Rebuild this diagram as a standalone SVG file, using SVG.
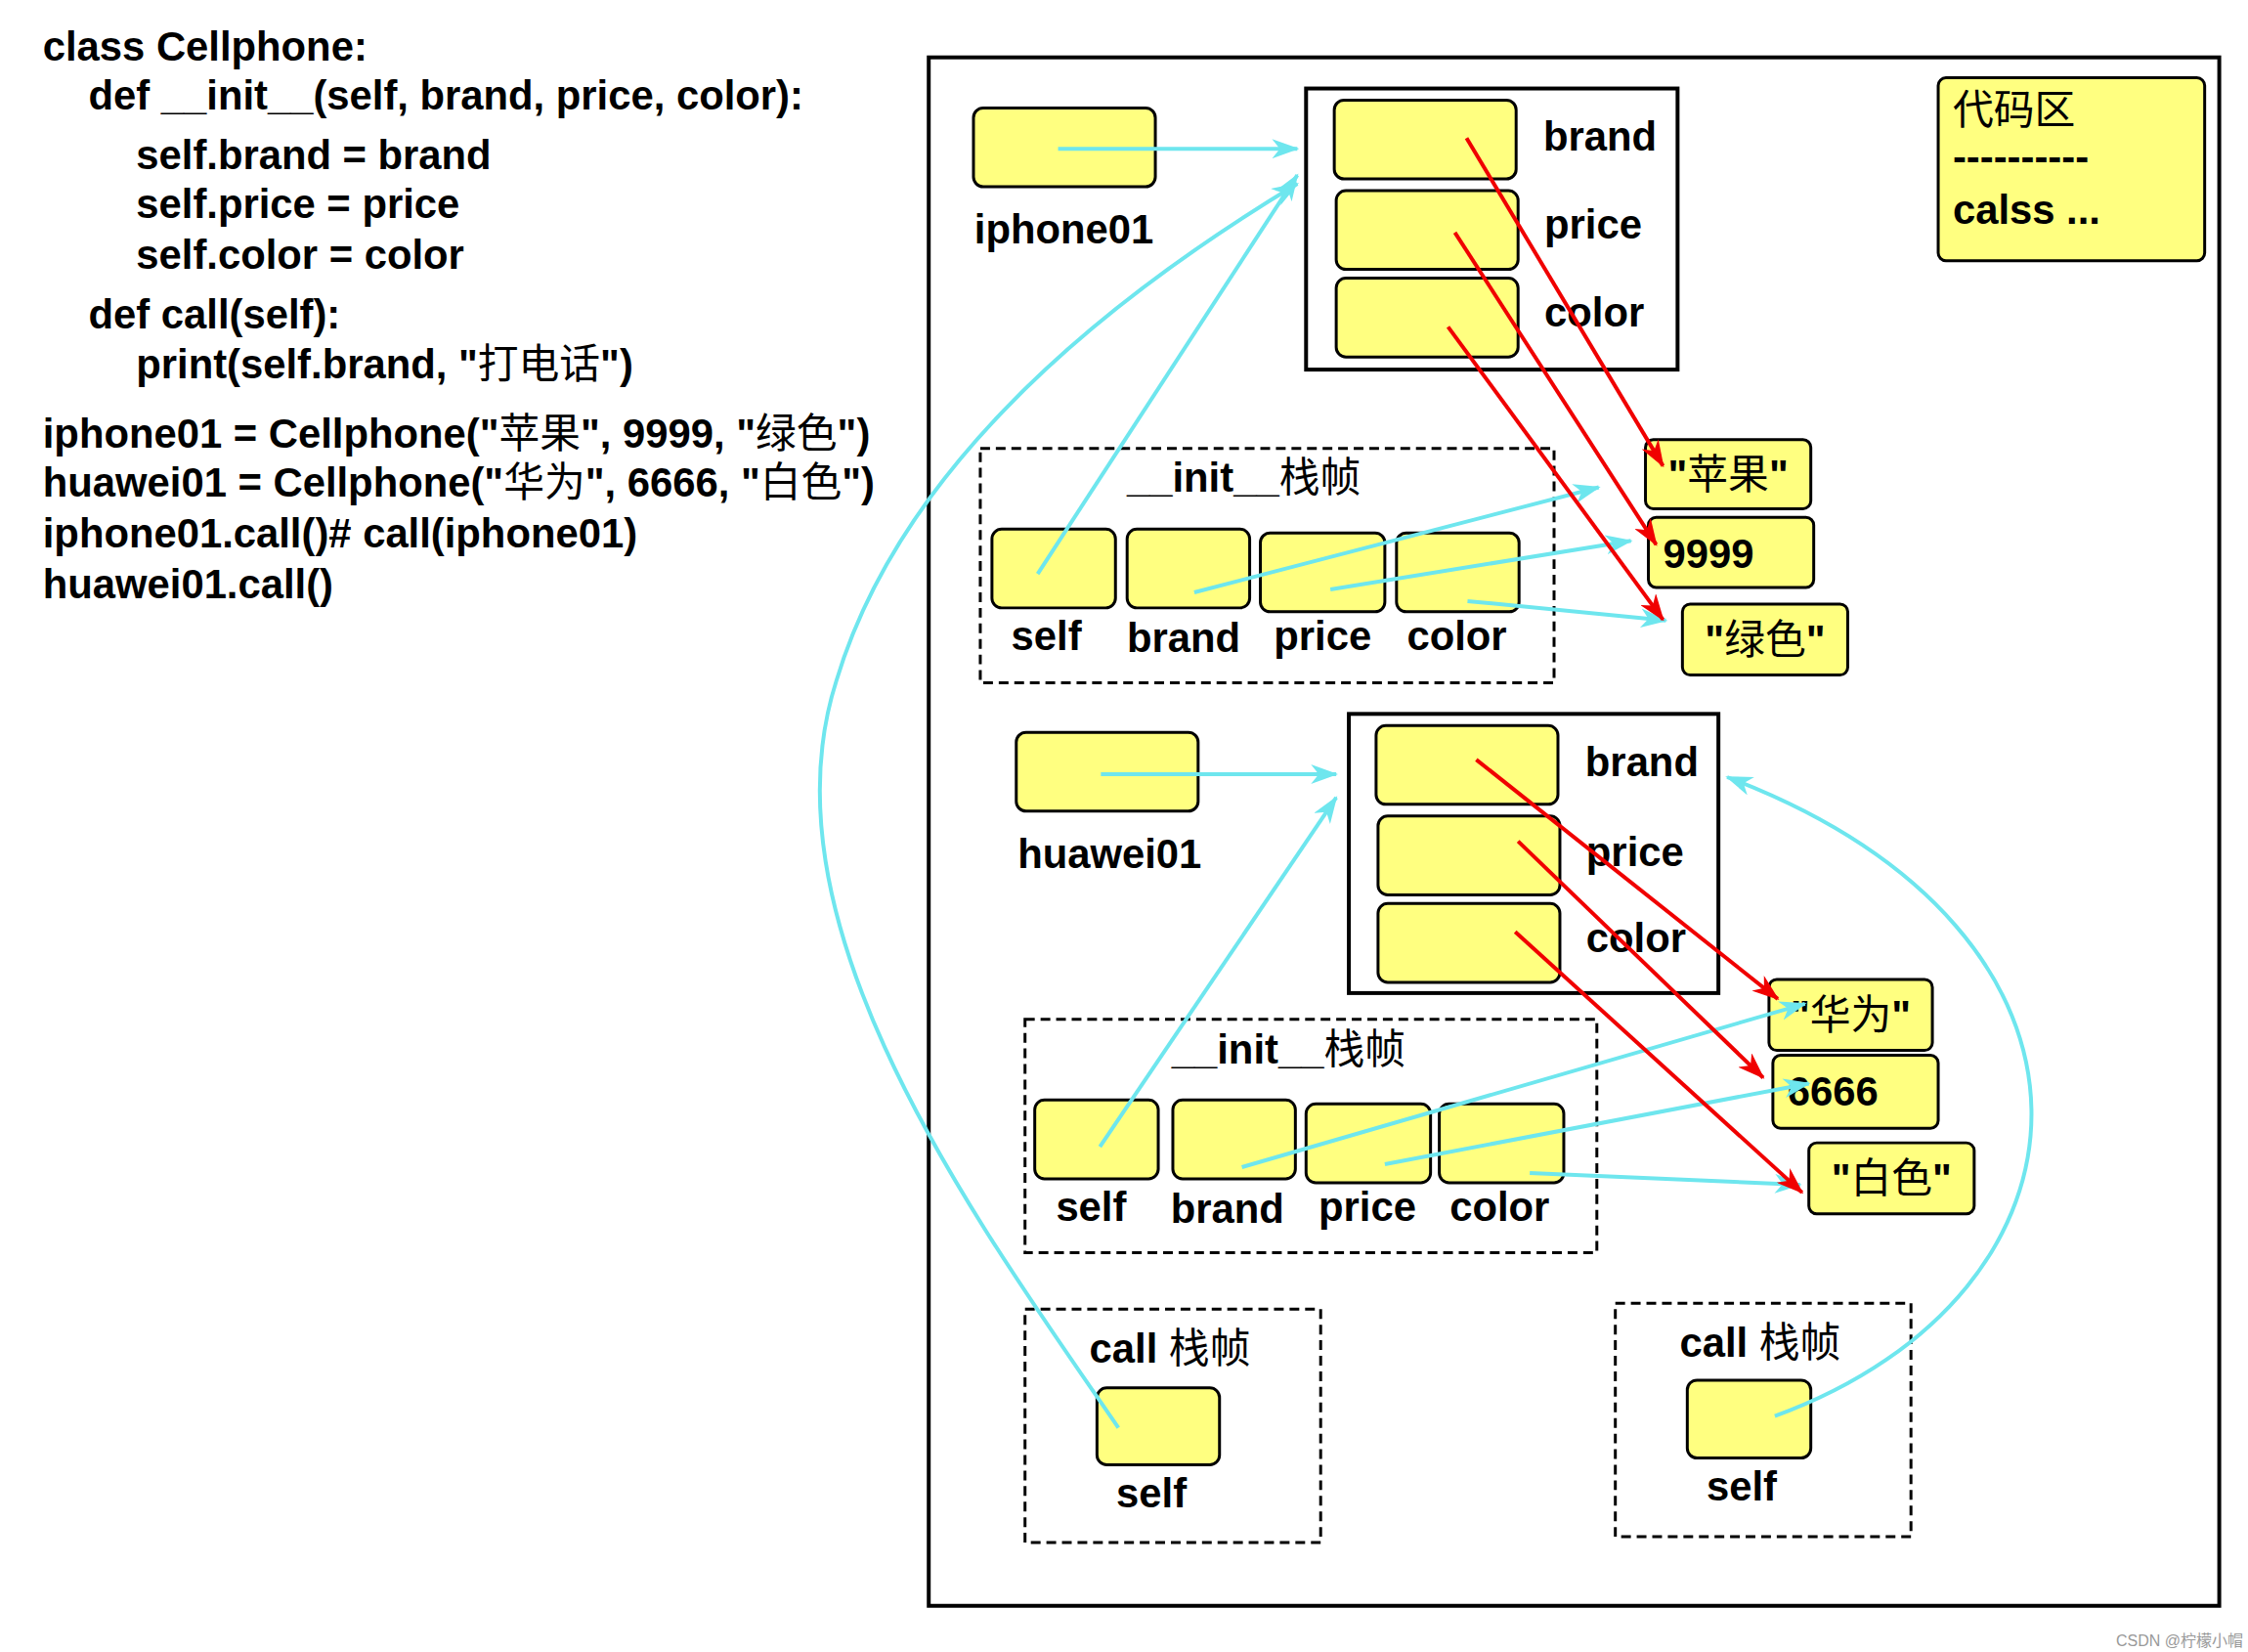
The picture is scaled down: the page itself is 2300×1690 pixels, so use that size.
<svg xmlns="http://www.w3.org/2000/svg" width="2300" height="1690" viewBox="0 0 2300 1690">
<style>
text{font-family:"Liberation Sans","Noto Sans CJK SC",sans-serif;font-weight:bold;font-size:42px;fill:#000}
.cjk{font-weight:normal}
.cell{fill:#FFFF80;stroke:#000;stroke-width:3}
.obj{fill:none;stroke:#000;stroke-width:4}
.dash{fill:none;stroke:#000;stroke-width:3;stroke-dasharray:10 6}
.c{fill:none;stroke:#6EE6EE;stroke-width:4;marker-end:url(#ac)}
.r{fill:none;stroke:#F00000;stroke-width:4;marker-end:url(#ar)}
.m{text-anchor:middle}
</style>
<defs>
<marker id="ac" viewBox="0 0 14 10" refX="13" refY="5" markerWidth="7" markerHeight="5" orient="auto" markerUnits="strokeWidth"><path d="M0,0 L14,5 L0,10 L4,5 z" fill="#6EE6EE"/></marker>
<marker id="ar" viewBox="0 0 14 10" refX="13" refY="5" markerWidth="7" markerHeight="5" orient="auto" markerUnits="strokeWidth"><path d="M0,0 L14,5 L0,10 L4,5 z" fill="#F00000"/></marker>
</defs>
<rect width="2300" height="1690" fill="#fff"/>
<g transform="scale(0.995)">
<g id="code">
<text x="44" y="62">class Cellphone:</text>
<text x="91" y="113">def __init__(self, brand, price, color):</text>
<text x="140" y="174">self.brand = brand</text>
<text x="140" y="224">self.price = price</text>
<text x="140" y="276">self.color = color</text>
<text x="91" y="338">def call(self):</text>
<text x="140" y="389">print(self.brand, "<tspan class="cjk">打电话</tspan>")</text>
<text x="44" y="460">iphone01 = Cellphone("<tspan class="cjk">苹果</tspan>", 9999, "<tspan class="cjk">绿色</tspan>")</text>
<text x="44" y="511">huawei01 = Cellphone("<tspan class="cjk">华为</tspan>", 6666, "<tspan class="cjk">白色</tspan>")</text>
<text x="44" y="563">iphone01.call()# call(iphone01)</text>
<text x="44" y="615">huawei01.call()</text>
</g>
<rect x="955" y="59" width="1327" height="1592" class="obj"/>
<g id="codearea"><rect x="1993" y="80" width="274" height="188" rx="8" class="cell"/>
<text x="2008" y="128" class="cjk">代码区</text><text x="2008" y="176">----------</text><text x="2008" y="230">calss ...</text></g>
<g id="iphone01"><rect x="1001" y="111" width="187" height="81" rx="10" class="cell"/><text x="1094" y="250" class="m">iphone01</text></g>
<g id="obj1"><rect x="1343" y="91" width="382" height="289" class="obj"/>
<rect x="1372" y="103" width="187" height="81" rx="10" class="cell"/>
<rect x="1374" y="196" width="187" height="81" rx="10" class="cell"/>
<rect x="1374" y="286" width="187" height="81" rx="10" class="cell"/>
<text x="1587" y="155">brand</text><text x="1588" y="245">price</text><text x="1588" y="336">color</text></g>
<g id="init1"><rect x="1008" y="461" width="590" height="241" class="dash"/>
<text x="1279" y="506" class="m">__init__<tspan class="cjk">栈帧</tspan></text>
<rect x="1020" y="544" width="127" height="81" rx="10" class="cell"/>
<rect x="1159" y="544" width="126" height="81" rx="10" class="cell"/>
<rect x="1296" y="548" width="128" height="81" rx="10" class="cell"/>
<rect x="1436" y="548" width="126" height="81" rx="10" class="cell"/>
<text x="1076" y="668" class="m">self</text><text x="1217" y="670" class="m">brand</text><text x="1360" y="668" class="m">price</text><text x="1498" y="668" class="m">color</text></g>
<g id="v1"><rect x="1692" y="452" width="170" height="71" rx="8" class="cell"/><text x="1777" y="503" class="m">"<tspan class="cjk">苹果</tspan>"</text></g>
<g id="v2"><rect x="1695" y="532" width="170" height="72" rx="8" class="cell"/><text x="1710" y="584">9999</text></g>
<g id="v3"><rect x="1730" y="621" width="170" height="73" rx="8" class="cell"/><text x="1815" y="672" class="m">"<tspan class="cjk">绿色</tspan>"</text></g>
<g id="huawei01"><rect x="1045" y="753" width="187" height="81" rx="10" class="cell"/><text x="1141" y="892" class="m">huawei01</text></g>
<g id="obj2"><rect x="1387" y="734" width="380" height="287" class="obj"/>
<rect x="1415" y="746" width="187" height="81" rx="10" class="cell"/>
<rect x="1417" y="839" width="187" height="81" rx="10" class="cell"/>
<rect x="1417" y="929" width="187" height="81" rx="10" class="cell"/>
<text x="1630" y="798">brand</text><text x="1631" y="890">price</text><text x="1631" y="979">color</text></g>
<g id="init2"><rect x="1054" y="1048" width="588" height="240" class="dash"/>
<text x="1325" y="1093" class="m">__init__<tspan class="cjk">栈帧</tspan></text>
<rect x="1064" y="1131" width="127" height="81" rx="10" class="cell"/>
<rect x="1206" y="1131" width="126" height="81" rx="10" class="cell"/>
<rect x="1343" y="1135" width="128" height="81" rx="10" class="cell"/>
<rect x="1480" y="1135" width="128" height="81" rx="10" class="cell"/>
<text x="1122" y="1255" class="m">self</text><text x="1262" y="1257" class="m">brand</text><text x="1406" y="1255" class="m">price</text><text x="1542" y="1255" class="m">color</text></g>
<g id="v4"><rect x="1819" y="1007" width="168" height="73" rx="8" class="cell"/><text x="1903" y="1058" class="m">"<tspan class="cjk">华为</tspan>"</text></g>
<g id="v5"><rect x="1823" y="1085" width="170" height="75" rx="8" class="cell"/><text x="1838" y="1137">6666</text></g>
<g id="v6"><rect x="1860" y="1175" width="170" height="73" rx="8" class="cell"/><text x="1945" y="1226" class="m">"<tspan class="cjk">白色</tspan>"</text></g>
<g id="call1"><rect x="1054" y="1346" width="304" height="240" class="dash"/>
<text x="1203" y="1401" class="m">call <tspan class="cjk">栈帧</tspan></text>
<rect x="1128" y="1427" width="126" height="79" rx="10" class="cell"/><text x="1184" y="1550" class="m">self</text></g>
<g id="call2"><rect x="1661" y="1340" width="304" height="240" class="dash"/>
<text x="1810" y="1395" class="m">call <tspan class="cjk">栈帧</tspan></text>
<rect x="1735" y="1419" width="127" height="80" rx="10" class="cell"/><text x="1791" y="1543" class="m">self</text></g>
<g id="connectors">
<path class="c" d="M1088,153 L1334,153"/>
<path class="c" d="M1067,590 L1334,180"/>
<path class="c" d="M1150,1468 C1000,1250 780,950 860,700 C920,500 1100,330 1334,189"/>
<path class="c" d="M1228,609 L1644,501"/>
<path class="c" d="M1368,606 L1677,556"/>
<path class="c" d="M1509,618 L1713,638"/>
<path class="r" d="M1508,142 L1710,479"/>
<path class="r" d="M1496,239 L1703,560"/>
<path class="r" d="M1489,336 L1710,637"/>
<path class="c" d="M1132,796 L1374,796"/>
<path class="c" d="M1131,1179 L1374,820"/>
<path class="c" d="M1277,1200 L1856,1032"/>
<path class="c" d="M1424,1197 L1860,1114"/>
<path class="c" d="M1573,1206 L1851,1218"/>
<path class="r" d="M1518,781 L1828,1027"/>
<path class="r" d="M1561,865 L1813,1108"/>
<path class="r" d="M1558,958 L1853,1226"/>
<path class="c" d="M1825,1456 C2170,1330 2200,960 1776,799"/>
</g>
</g>
<text x="2295" y="1684" style="font-size:16px;font-weight:normal;fill:#999;text-anchor:end">CSDN @<tspan>柠檬小帽</tspan></text>
</svg>
